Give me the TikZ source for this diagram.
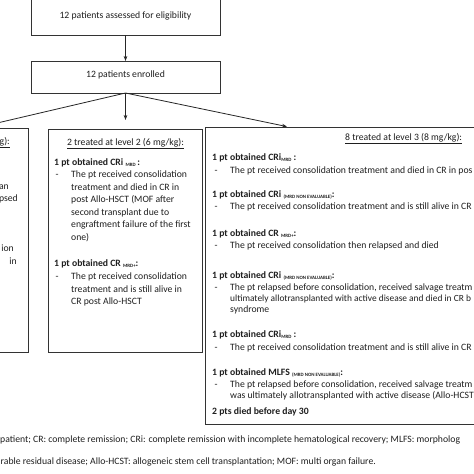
\documentclass[tikz,border=0pt]{standalone}
\usepackage{fontspec}
\setmainfont{Carlito}
\usetikzlibrary{arrows.meta}
\newcommand{\msub}[1]{\raisebox{-0.9pt}{\fontsize{4.9}{5.4}\selectfont\bfseries #1}}
\begin{document}
\begin{tikzpicture}[x=1pt,y=-1pt,
  font=\fontsize{9.7}{11.8}\selectfont,
  box/.style={draw=black!80, line width=0.8pt, inner sep=0pt, outer sep=0pt, anchor=north west},
  txt/.style={inner sep=0pt, anchor=base west, text=black!88},
  txte/.style={inner sep=0pt, anchor=base east, text=black!88},
  txtc/.style={inner sep=0pt, anchor=base, text=black!88},
  arr/.style={-{Stealth[length=5pt,width=3.6pt]}, line width=0.8pt, draw=black!85}]
\useasboundingbox (0,0) rectangle (474,474);
\fill[white] (0,0) rectangle (474,474);

% boxes
\node[box, minimum width=189pt, minimum height=40pt] (elig) at (31,-5) {};
\node[box, minimum width=189pt, minimum height=32pt] (enroll) at (31,61) {};
\node[box, minimum width=154pt, minimum height=224pt] (lvl1) at (-126,128) {};
\node[box, minimum width=154pt, minimum height=223pt] (lvl2) at (48,129) {};
\node[box, minimum width=360pt, minimum height=297pt] (lvl3) at (205.5,127) {};

\node[txtc] (eligt) at (125.5,18.5) {12 patients assessed for eligibility};
\node[txtc] (enrollt) at (125.5,77.5) {12 patients enrolled};

% connectors
\coordinate (lefttip) at (-22,127.5);
\coordinate (midtip) at (125.5,120);
\coordinate (righttip) at (287,126.6);
\draw[arr] (elig.south) -- (enroll.north);
\draw[arr] (enroll.south) -- (lefttip);
\draw[arr] (enroll.south) -- (midtip);
\draw[arr] (enroll.south) -- (righttip);

% left box fragments
\node[txte] (l1) at (10,144.5) {\underline{g):}};
\node[txte] (l2) at (9,189.5) {an};
\node[txte] (l3) at (18,201.5) {psed};
\node[txte] (l4) at (14,251.5) {ion};
\node[txte] (l5) at (17,264.5) {in};

% middle box
\node[txtc] (m0) at (125.5,145.5) {\underline{2 treated at level 2 (6 mg/kg):}};
\node[txt] (m1) at (54,165.5) {\textbf{1 pt obtained CRi} \msub{MRD}\,\textbf{:}};
\node[txt] (md1) at (55.5,177.5) {-};
\node[txt] (m2) at (71,177.5) {The pt received consolidation};
\node[txt] (m3) at (71,190) {treatment and died in CR in};
\node[txt] (m4) at (71,202.5) {post Allo-HSCT (MOF after};
\node[txt] (m5) at (71,215) {second transplant due to};
\node[txt] (m6) at (71,227.5) {engraftment failure of the first};
\node[txt] (m7) at (71,240) {one)};
\node[txt] (m8) at (54,266.5) {\textbf{1 pt obtained CR} \msub{MRD+}\textbf{:}};
\node[txt] (md2) at (55.5,279.5) {-};
\node[txt] (m9) at (71,279.5) {The pt received consolidation};
\node[txt] (m10) at (71,292) {treatment and is still alive in};
\node[txt] (m11) at (71,304.5) {CR post Allo-HSCT};

% right box
\node[txt] (r0) at (345,140.5) {\underline{8 treated at level 3 (8 mg/kg):}};
\node[txt] (r1) at (212,160.5) {\textbf{1 pt obtained CRi}\msub{MRD}\textbf{ :}};
\node[txt] (rd1) at (214.5,173.5) {-};
\node[txt] (r2) at (230,173.5) {The pt received consolidation treatment and died in CR in pos};
\node[txt] (r3) at (212,197.5) {\textbf{1 pt obtained CRi} \msub{(MRD NON EVALUABLE)}\textbf{:}};
\node[txt] (rd2) at (214.5,209.5) {-};
\node[txt] (r4) at (230,209.5) {The pt received consolidation treatment and is still alive in CR};
\node[txt] (r5) at (212,236.5) {\textbf{1 pt obtained CR} \msub{MRD+}\textbf{:}};
\node[txt] (rd3) at (214.5,248.5) {-};
\node[txt] (r6) at (230,248.5) {The pt received consolidation then relapsed and died};
\node[txt] (r7) at (212,278.5) {\textbf{1 pt obtained CRi} \msub{(MRD NON EVALUABLE)}\textbf{:}};
\node[txt] (rd4) at (214.5,290.5) {-};
\node[txt] (r8) at (230,290.5) {The pt relapsed before consolidation, received salvage treatm};
\node[txt, font=\fontsize{9.4}{11.5}\selectfont] (r9) at (230,301) {ultimately allotransplanted with active disease and died in CR b};
\node[txt] (r10) at (230,312.5) {syndrome};
\node[txt] (r11) at (212,337.5) {\textbf{1 pt obtained CRi}\msub{MRD}\textbf{ :}};
\node[txt] (rd5) at (214.5,350.5) {-};
\node[txt] (r12) at (230,350.5) {The pt received consolidation treatment and is still alive in CR};
\node[txt] (r13) at (212,375.5) {\textbf{1 pt obtained MLFS} \msub{(MRD NON EVALUABLE)}\textbf{:}};
\node[txt] (rd6) at (214.5,387.5) {-};
\node[txt] (r14) at (230,387.5) {The pt relapsed before consolidation, received salvage treatm};
\node[txt] (r15) at (230,398.5) {was ultimately allotransplanted with active disease (Allo-HCST};
\node[txt] (r16) at (212,414.5) {\textbf{2 pts died before day 30}};

% footer
\node[txt] (f1) at (0,442) {patient; CR: complete remission; CRi: complete remission with incomplete hematological recovery; MLFS: morpholog};
\node[txt] (f2) at (0.5,464) {rable residual disease; Allo-HCST: allogeneic stem cell transplantation; MOF: multi organ failure.};
\end{tikzpicture}
\end{document}
